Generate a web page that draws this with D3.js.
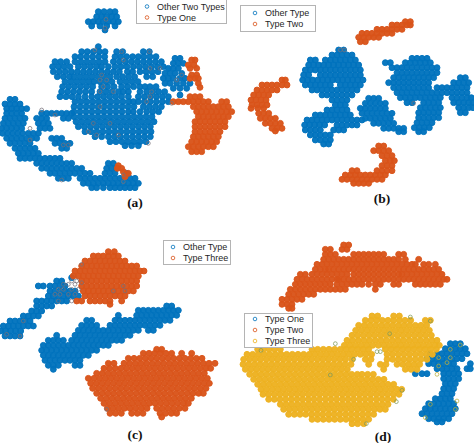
<!DOCTYPE html>
<html><head><meta charset="utf-8">
<script src="https://cdn.jsdelivr.net/npm/d3@7/dist/d3.min.js"></script>
<style>html,body{margin:0;padding:0;background:#fff}svg{display:block}</style>
</head><body><div id="c"></div>
<script>
// t-SNE readings per panel: each row is [y, x, x, x, ...]
const aOther=[[35,295,312,330,345],[50,290,305,320,335,350],[65,265,280,295,310,325,340,355],[78,275,300,320,345],[90,315],
[140,295],[155,245,262,280,298,315,350,368,430,448],[170,225,242,260,278,296,314,345,362,380,398,415,432,450,468],
[185,165,182,200,225,243,261,279,297,315,340,358,376,394,412,430,448,466,484],[200,158,175,192,210,235,253,271,289,305,325,345,363,381,400,418,436,454,472,490],
[215,160,178,196,214,232,250,268,286,304,322,340,358,382,398,420,438,456,474],[230,172,190,208,222,240,258,276,294,312,330,350,368,386,404,440,458],
[245,195,213,231,249,267,282,300,318,336,360,378,396,414],[260,188,206,224,242,260,278,305,323,342,365,383,401,420,435,450,468],
[275,185,203,221,239,257,275,300,318,336,355,370,385,420,440,458,476,494],[290,180,198,216,235,255,275,293,311,329,347,365,385,415,433,451,469,487,505],
[305,225,243,261,279,297,315,333,351,369,387,400,415,433,451,469,487,505],[320,222,240,258,276,294,312,330,348,366,384,402,430,448,466,484],
[335,222,240,258,276,294,312,330,348,366,385,400,420,440,458,476],[350,222,240,258,276,294,312,330,348,366,384,402,420,438,456],
[365,228,246,264,282,300,318,336,354,372,390,408,426,444,462],[380,235,253,271,289,307,325,343,361,379,397,415,433,451],
[395,255,273,291,309,327,345,363,381,399,417,435,453],[410,285,305,325,343,361,379,397,415,433,451],[425,330,348,366,384,402,420,438],[437,375,395,415],
[175,525,540],[190,520,535,550],[205,505,520,535],[220,495,510,525,545],[235,490,505,520,540,555],[250,495,510,530,550,570],[265,520,540,560],[285,540],
[298,30,45],[312,15,30,45,60],[326,20,35,50,65,80],[340,20,35,50,65,125,140,155,170,185,200,215],[355,15,30,45,60,75,110,125,140,190,205],
[370,10,25,40,55,70,115,130,145],[385,5,20,35,50,65,120,135,150],[400,8,23,38,53,68,85,100,115],[415,20,35,50,65,80,95,110,155,170,185],
[430,30,45,60,75,90,165,180,195,210],[445,45,60,75,90,105,185,200],[460,55,70,85,100,115],[475,60,75,90,105,120,135,150,165,180],
[490,110,125,140,155,170,185,200,215,325,340],[505,125,140,155,170,185,200,215,230,245,320,335,350],
[520,150,165,180,195,210,225,240,255,270,315,330,345,380],[535,175,190,205,240,255,270,285,300,315,330,345,360,375,390,405],
[550,250,265,280,295,310,325,340,355,370,385,400,415],[563,275,290,310,330,345,360,375,390,405]];
const aOne=[[290,570,585,600],[305,520,535,550,565,580,595,610,625,665,680],[320,580,595,610,625,640,655,670,685],[335,590,605,620,635,650,665,680,695],
[350,595,610,625,640,655,670,685],[365,585,600,615,630,645,660,675],[380,585,600,615,630,645,660,675],[395,585,600,615,630,645,660],
[410,580,595,610,625,640,655],[425,575,590,605,620,635,650],[440,565,580,595,610,625,640],[455,575,590,605],
[497,355],[505,365,352],[515,370],[520,385],[530,375],[180,575,585],[195,565,582],[205,570,590],[225,575,590],[235,570,585,595],[250,595],[262,600]];
const aOverlap=[[58,318],[85,315],[150,285],[155,365,448],[205,480,450],[225,305,545],[240,320,530,300],[275,300,340],[310,515],
[345,165],[385,90],[420,90],[435,205,190],[330,125],[370,280,330],[405,290,355],[430,445],[395,265],[320,300],[260,310],[540,185],[525,370],[545,370],[290,450],[305,440],[275,455],[180,370]];
const bOther=[[150,305,320],[165,285,300,315,330,345],[180,220,235,265,280,295,310,325,340,355],[195,215,230,245,260,275,290,305,320,335,350,365],
[210,205,220,235,250,265,280,295,310,325,340,355,370],[225,200,215,250,265,280,295,310,325,340,355,370],[240,197,212,227,242,257,272,287,302,317,332,347,362,378],
[255,205,220,235,250,265,280,310,325,340,355,370],[270,225,240,255,270,285,300,315,330,345,360],[285,255,270,285,300,315,330,345],[300,285,300,315,330],[315,295,310,325],
[330,270,285,300,315,330],[345,235,250,265,280,295,310,325,340],[360,210,225,240,255,270,285,300,315,330,345,360,375],[375,203,218,233,248,263,300,315,330,345,360],
[390,205,220,235,250,290,305,320],[405,220,235,250,265,280],[420,235,250,265,280],[432,260,275],
[295,395,410,425],[310,385,400,415,430,445],[325,370,385,400,415,430,445],[340,375,390,405,420,435,450,465],[355,385,400,415,430,445,460],[370,410,425,440,455,470],[385,440,455,470,485,500],[395,485,500],
[175,525,540,555,570],[188,445,460,505,520,535,550,565,580],[203,465,480,495,510,525,540,555,570,585,600],[218,480,495,510,525,540,555,570,585,600],
[233,470,485,500,515,530,545,560,575,590,670,685],[248,455,470,485,500,515,530,545,560,575,650,665,680,695],[263,470,485,500,515,530,545,560,575,600,615,630,645,660,675,690],
[278,480,495,510,525,540,555,570,585,600,615,630,645,660,675,690],[293,490,505,520,535,550,565,580,595,610,645,660,675,690,703],[308,510,525,560,575,590,605,650,665,680,695,708],
[323,550,565,580,595,610,665,680,695,708],[338,545,560,575,590,605,670,685],[353,545,560,575,590,605],[368,540,555,570,585],[383,532,547,562,577],[395,545,560]];
const bTwo=[[65,505,520],[75,465,480,495,510,520],[88,420,435,450,465,480,495],[100,375,390,405,420,435,450,465],[112,365,380,395,410,425],[125,370,385],
[240,135,145],[255,75,90,105,120,135,150],[270,60,75,90,105,120],[285,50,65,80,95],[300,42,57,72,87],[315,45,60,75,90],[325,42,62,80],[340,65,80,95],[355,70,85,100,115],[370,85,100,115,130],[385,105,120,135],[393,115],
[438,425,440],[452,410,425,440,455],[467,435,450,465],[482,445,460,472],[497,435,450,465],[512,345,360,420,435,450,465],[525,325,340,355,370,385,400,415,430,445],[538,315,330,345,360,375,390,405,420,435],[550,350,365,380,395]];
const bOverlap=[[150,310,322],[310,530]];
const cOther=[[170,215],[180,170,185],[195,115,130,150,165,180,195],[210,150,165,180,195,210,225],[225,145,160,175,190,205,220,235],[240,110,125,140,155,170,185,200],[255,110,125,140,155],[270,95,110,125],[285,70,85,100,115],[300,30,45,60,75,90],[315,10,25,40,55,70,85,100],[330,2,17,32,47,62],[345,15,30,45,60],
[255,500,515],[268,415,430,445,460,475,490,505,520,535],[283,355,410,425,440,455,470,485,500,515,530],[298,260,275,345,360,375,390,405,420,435,450,465,480,495,510],
[313,245,260,275,290,330,345,360,375,390,405,420,435,450,465,480],[328,235,250,265,280,295,310,325,340,355,370,385,400,415,445,460],[343,170,225,240,255,270,285,300,315,330,345,360,375,390],
[358,145,160,175,190,215,230,245,260,275,290,305,320,335,350,365],[373,130,145,160,175,190,205,220,235,250,265,280,295,310,325],[388,125,140,155,170,185,200,215,230,245,260,275,290],
[403,130,145,160,175,190,205,220,235,250,265],[418,135,150,165,180,195,210,225,240],[433,145,160,175,225,240],[445,160]];
const cThree=[[92,325,343],[105,280,295,310,325,340,355],[120,255,270,285,300,315,330,345,360,375],[135,245,260,275,290,305,320,335,350,365,380,395,410],
[150,225,240,255,270,285,300,315,330,345,360,375,390,405,420,432],[165,220,235,250,265,280,295,310,325,340,355,370,385,400,415],[180,245,260,275,290,305,320,335,350,365,380,395,410],
[195,245,260,275,290,305,320,335,350,365,380,395,410],[210,250,265,280,295,310,325,340,355,370,385,400],[225,255,270,285,300,315,330,345,360,375],[240,230,245,270,285,300,315,330,365],[250,330],
[385,470,485],[397,430,447,464,481,498,515,545,575],[412,385,402,419,436,453,470,487,504,521,538,555,572,589,606],[427,325,342,372,389,406,423,440,457,474,491,508,525,542,559,576,593,610,627,645],
[442,312,329,346,363,380,397,414,431,448,465,482,499,516,533,550,567,584,601,618,632],[457,290,307,324,341,358,375,392,409,426,443,460,477,494,511,528,545,562,579,596,613],
[472,265,282,299,316,333,350,367,384,401,418,435,452,469,486,503,520,537,554,571,588,605,622],[487,272,289,306,323,340,357,374,391,408,425,442,459,476,493,510,527,544,561,578,595,612,628],
[502,278,295,312,329,346,363,380,397,414,431,448,465,482,499,516,533,550,567,584,601,618],[517,290,307,324,341,358,375,392,409,426,443,460,477,494,511,528,545,562,579,596,610],
[532,302,319,336,353,370,387,404,421,438,455,472,489,506,523,540,557,574],[547,312,329,346,363,380,397,414,431,448,465,482,499,516,533,550,565],
[562,322,339,356,373,390,407,424,441,470,487,504,521,538,555],[577,330,347,364,395,412,429,480,497,514,530],[588,485]];
const cOverlap=[[180,215,230],[190,190,205,225],[205,175,190,215,235],[220,165,180,205,225],[240,215,175],[185,245],[300,70],[340,20],[345,60],[130,245],[210,340,375],[565,320],[195,370]];
const dOne=[[368,640,655,670],[383,625,640,655,670,685],[398,580,600,615,630,645,660,675,690],[413,570,585,600,615,630,645,660,675],[428,575,590,605,620,635,650,700],
[443,600,615,630,645,660,690,700],[458,535,555,570,620,635,650,665],[473,620,635,650,665],[488,625,640,655],[503,620,635,650],[518,615,630,645],[533,595,610,625,640],
[548,575,590,605,620,635,650],[563,565,580,595,610,625,640,655],[578,555,570,585,600,615,630,645],[593,575,590,605,620,635],[603,600,615]];
const dTwo=[[72,320,335],[85,265,280,315,330],[100,265,280,295,350,365,380,395,410,425,440,485,500],[115,260,275,290,305,320,335,350,365,380,395,410,425,440,455,470,485,505,545],
[130,240,255,270,285,300,315,330,345,360,375,390,405,420,435,450,465,480,495,510,525,535,560,575,595],[145,235,250,265,275,290,305,320,335,350,365,380,395,410,425,440,455,470,485,500,515,530,545,560,575,590,605],
[160,190,205,225,240,255,270,285,300,315,330,350,365,380,395,410,425,440,455,470,485,495,510,525,540,555,570,585,600,615],[175,180,195,210,225,240,255,270,285,300,305,320,335,350,365,380,395,410,425,440,455,470,485,500,515,530,545,560,575,590,605,620,630],
[190,175,190,205,220,235,250,265,280,300,315,330,345,360,375,395,415,430,470,485,535,550,565,580,595,610],[205,160,175,190,205,220,235,250,265,280,295,310,325,415],[220,155,170,185,200,215,230],[235,135,150,165,180,195],[250,135,150,165],[262,155,165]];
const dThree=[[285,405,422,470,487],[298,385,402,419,436,453,470,487,504,521,565,580],[313,365,382,399,416,433,450,467,484,501,518,535,552,569],[328,356,373,390,407,424,441,458,475,492,509,526,543,560,577],
[343,345,362,379,396,413,430,447,464,481,498,515,532,549,566,583],[358,330,347,364,381,398,415,432,449,466,483,500,517,534,551,568,585,600],[373,322,339,356,373,390,407,424,441,458,475,492,509,526,543,560,577,594,607],
[385,62,79,96,113,130,225,242,259,276,293,310,327,344,361,378,395,445,462,479,496,513,530,547,564,581,598],
[400,30,47,64,81,98,115,132,149,166,183,200,217,234,251,268,285,302,319,336,353,370,387,404,450,467,484,501,518,535,552,569,586],
[415,20,37,54,71,88,105,122,139,156,173,190,207,224,241,258,275,292,309,326,345,385,402,450,467,484,501,518,535,552,570],
[430,18,35,52,69,86,103,120,137,154,171,188,205,222,239,256,273,290,307,324,342,395,430,447,480,497,514,531,548],
[445,25,42,59,76,93,110,127,144,161,178,195,212,229,246,263,280,297,314,331,440,505,522,540],
[460,38,55,72,89,106,123,140,157,174,191,208,225,242,259,276,293,310,327,344,361,375,392,409],
[475,50,67,84,101,118,135,152,169,186,203,220,237,254,271,288,305,322,339,356,373,390,407,424,441],
[490,62,79,96,113,130,147,164,181,198,215,232,249,266,283,300,317,334,351,368,385,402,419,436,453,470],
[505,72,89,106,123,140,157,174,191,208,225,242,259,276,293,310,327,344,361,378,395,412,429,446,463,480,494],
[520,78,95,112,129,146,163,180,197,214,231,248,265,282,299,316,333,350,367,384,401,418,435,452,469,486],
[535,95,112,129,146,163,180,197,214,231,248,265,282,299,316,333,350,367,384,401,418,435,452,469],
[550,130,147,164,181,198,215,232,249,266,283,300,317,334,351,368,385,402,419,436,453],
[565,140,157,174,191,208,225,242,259,276,293,310,327,344,361,378,395,412,429,445],
[580,155,172,189,206,223,240,257,274,291,308,325,342,359,376,393,410],[595,225,242,259,276,293,310,327,344,361,378,395],[608,345,362,380]];
const dThreeOnOne=[[410,640,605],[425,630],[435,605],[460,600],[385,640],[372,670],[565,655],[590,565],[550,580],[540,660]];
const dOneOnThree=[[368,295],[288,520],[300,580],[338,458],[415,350],[392,420,430],[508,495],[542,478],[608,388],[388,72],[462,280]];
const legendA=["Other Two Types","Type One"], legendB=["Other Type","Type Two"], legendC=["Other Type","Type Three"], legendD=["Type One","Type Two","Type Three"];
const labels=["(a)","(b)","(c)","(d)"];
const blue="#0072BD", red="#D95319", yel="#EDB120", grey="#77707a";

const W=474,H=443;
const svg=d3.select("#c").append("svg").attr("width",W).attr("height",H);
const pts=rows=>rows.flatMap(r=>r.slice(1).map(x=>[x,r[0]]));

function panel(ox,oy,series,leg,label){
  const x=d3.scaleLinear().domain([0,711]).range([ox,ox+237]);
  const y=d3.scaleLinear().domain([0,663]).range([oy,oy+221]);
  series.forEach(s=>{
    svg.append("g").selectAll("circle").data(pts(s.rows)).join("circle")
      .attr("cx",d=>x(d[0])).attr("cy",d=>y(d[1])).attr("r",s.overlap?1.9:2.95)
      .attr("fill",s.overlap?"none":s.color).attr("fill-opacity",0.96)
      .attr("stroke",s.color).attr("stroke-width",s.overlap?1:.95).attr("stroke-opacity",s.overlap?0.75:1);
  });
  const g=svg.append("g");
  g.append("rect").attr("x",leg.x+.5).attr("y",leg.y+.5).attr("width",leg.w).attr("height",leg.h)
    .attr("fill","#fff").attr("stroke","#b4b4b4").attr("stroke-width",1);
  leg.items.forEach((t,i)=>{
    const cy=leg.first+i*11;
    g.append("circle").attr("cx",leg.mx).attr("cy",cy).attr("r",1.8).attr("fill","none").attr("stroke",leg.colors[i]).attr("stroke-width",.8);
    g.append("text").attr("x",leg.tx).attr("y",cy+3.3).attr("font-family","Liberation Sans, Arial, sans-serif").attr("font-size",9).attr("fill","#262626").text(t);
  });
  svg.append("text").attr("x",label.x).attr("y",label.y).attr("text-anchor","middle")
    .attr("font-family","Liberation Serif, serif").attr("font-weight","bold").attr("font-size",13.5).attr("fill","#111").text(label.t);
}
panel(0,0,[{rows:aOther,color:blue},{rows:aOne,color:red},{rows:aOverlap,color:grey,overlap:true}],
  {x:136,y:-1,w:90,h:24,items:legendA,colors:[blue,red],first:6.5,mx:147,tx:157},{x:135,y:207,t:labels[0]});
panel(237,0,[{rows:bOther,color:blue},{rows:bTwo,color:red},{rows:bOverlap,color:grey,overlap:true}],
  {x:240,y:5,w:75,h:26,items:legendB,colors:[blue,red],first:13,mx:255,tx:265},{x:382,y:203,t:labels[1]});
panel(0,221,[{rows:cOther,color:blue},{rows:cThree,color:red},{rows:cOverlap,color:grey,overlap:true}],
  {x:163,y:240,w:67,h:24,items:legendC,colors:[blue,red],first:247,mx:173,tx:183},{x:135,y:439,t:labels[2]});
panel(237,221,[{rows:dOne,color:blue},{rows:dTwo,color:red},{rows:dThree,color:yel},{rows:dThreeOnOne,color:"#b8ad3a",overlap:true},{rows:dOneOnThree,color:"#7f9a5a",overlap:true}],
  {x:244,y:313,w:68,h:34,items:legendD,colors:[blue,red,yel],first:319,mx:255,tx:265},{x:383,y:441,t:labels[3]});
</script></body></html>
